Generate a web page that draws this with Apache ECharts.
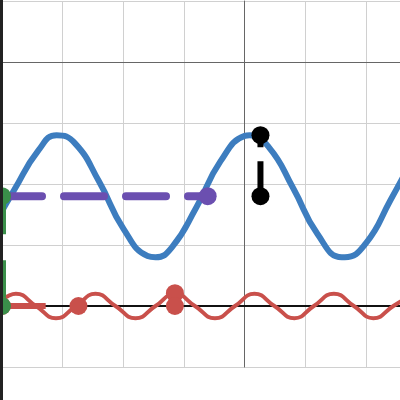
<!DOCTYPE html>
<html>
<head>
<meta charset="utf-8">
<script src="https://cdn.jsdelivr.net/npm/echarts@6/dist/echarts.min.js"></script>
<style>html,body{margin:0;padding:0;background:#fff}#chart{width:400px;height:400px}</style>
</head>
<body>
<div id="chart"></div>
<script>
// curva azul (onda grande)
const blueX = [-4.2, -3.8, -3.4, -3.1, -2.8, -2.4, -2.0, -1.6, -1.47, -1.2, -0.8, -0.4, 0, 0.08, 0.4, 0.8, 1.2, 1.6, 1.65, 2.0, 2.4, 2.8];
const blueY = [-2.8, -2.1, -1.45, -1.2, -1.33, -1.96, -2.73, -3.18, -3.2, -3.04, -2.39, -1.63, -1.21, -1.2, -1.40, -2.07, -2.82, -3.2, -3.2, -2.97, -2.27, -1.53];
// curva roja (onda chica)
const redX = [-4.1, -3.77, -3.44, -3.11, -2.78, -2.46, -2.13, -1.8, -1.47, -1.15, -0.82, -0.49, -0.16, 0.16, 0.49, 0.82, 1.14, 1.47, 1.8, 2.12, 2.45, 2.78];
const redY = [-4.0, -3.8, -4.0, -4.2, -4.0, -3.8, -4.0, -4.2, -4.0, -3.8, -4.0, -4.2, -4.0, -3.8, -4.0, -4.2, -4.0, -3.8, -4.0, -4.2, -4.0, -3.8];
const redPts = [[-2.74, -4], [-1.15, -3.79], [-1.15, -4], [-4, -4]];
const redSeg = [[-4, -4], [-3.28, -4]];
const purpleSeg = [[-4, -2.2], [-0.61, -2.2]];
const purplePts = [[-0.61, -2.2]];
const greenSeg = [[-4, -2.2], [-4, -4]];
const greenPts = [[-4, -2.2], [-4, -4]];
const blackSeg = [[0.26, -1.2], [0.26, -2.2]];
const blackPts = [[0.26, -1.2], [0.26, -2.2]];
const baseLine = [[-5, -4], [3, -4]];

const C = { blue: "#3d7dbf", red: "#c9504b", green: "#3a8f4a", purple: "#6b4fb0", black: "#000" };
const zip = (xs, ys) => xs.map((x, i) => [x, ys[i]]);
const line = (data, color, extra) => Object.assign({
  type: "line", data, showSymbol: false, lineStyle: { color, width: 6 }, silent: true, animation: false
}, extra || {});
const dots = (data, color) => ({
  type: "scatter", data, symbolSize: 18, itemStyle: { color, opacity: 1 }, silent: true, animation: false, z: 5, clip: false
});

const chart = echarts.init(document.getElementById("chart"));
chart.setOption({
  animation: false,
  grid: { left: 2, width: 398, top: 1, height: 366 },
  xAxis: {
    type: "value", min: -4, max: 2.56, interval: 1,
    axisLabel: { show: false }, axisTick: { show: false },
    axisLine: { onZero: true, lineStyle: { color: "#666", width: 1 } },
    splitLine: { lineStyle: { color: "#d0d0d0" } }
  },
  yAxis: {
    type: "value", min: -5, max: 1, interval: 1,
    axisLabel: { show: false }, axisTick: { show: false },
    axisLine: { onZero: true, lineStyle: { color: "#666", width: 1 } },
    splitLine: { lineStyle: { color: "#d0d0d0" } }
  },
  graphic: [{ type: "rect", shape: { x: 0, y: 0, width: 3, height: 400 }, style: { fill: "#222" }, z: 100 }],
  series: [
    line(baseLine, C.black, { lineStyle: { color: "#111", width: 2 } }),
    line(zip(blueX, blueY), C.blue, { smooth: true }),
    line(zip(redX, redY), C.red, { smooth: true, lineStyle: { color: C.red, width: 4 } }),
    line(redSeg, C.red),
    line(purpleSeg, C.purple, { lineStyle: { color: C.purple, width: 8, type: [40, 22], cap: "round" } }),
    line(greenSeg, C.green, { clip: false, lineStyle: { color: C.green, width: 8, type: [38, 26] } }),
    line(blackSeg, C.black, { lineStyle: { color: C.black, width: 6, type: [12, 14, 28, 0] } }),
    dots(redPts, C.red),
    dots(purplePts, C.purple),
    dots(greenPts, C.green),
    dots(blackPts, C.black)
  ]
});
</script>
</body>
</html>
